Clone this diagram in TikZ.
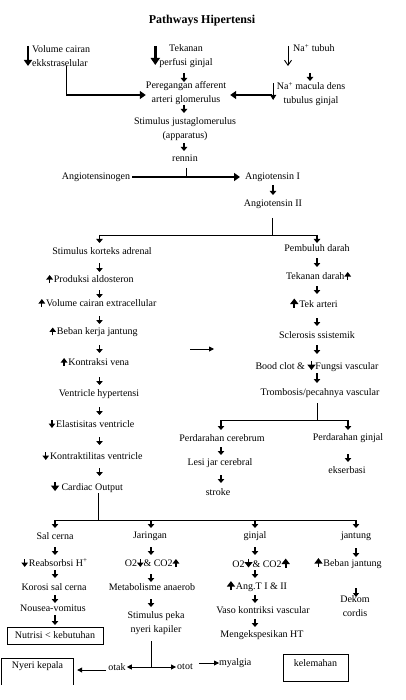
\documentclass[tikz,border=0pt]{standalone}
\usepackage{fontspec}
\setmainfont{Liberation Serif}
\usetikzlibrary{arrows.meta,calc}
\newcommand\myup{\tikz[baseline=0pt,x=1pt,y=1pt]\draw[line width=1.3pt,-{Triangle[width=6.5pt,length=4.5pt]}] (0,-0.5)--(0,7.5);}
\newcommand\mydn{\tikz[baseline=0pt,x=1pt,y=1pt]\draw[line width=1.3pt,-{Triangle[width=6.5pt,length=4.5pt]}] (0,7.5)--(0,-0.5);}
\newcommand\bigup{\tikz[baseline=0pt,x=1pt,y=1pt]\draw[line width=1.6pt,-{Triangle[width=8pt,length=5.5pt]}] (0,-0.5)--(0,8.5);}
\newcommand\bigdn{\tikz[baseline=0pt,x=1pt,y=1pt]\draw[line width=1.6pt,-{Triangle[width=8pt,length=5.5pt]}] (0,8.5)--(0,-0.5);}
\tikzset{
 txt/.style={inner sep=0pt, font=\fontsize{10}{13.5}\selectfont, align=center},
 dn/.style={line width=1.8pt, -{Triangle[width=6.5pt,length=4pt]}},
 ln/.style={line width=0.8pt},
 thk/.style={line width=2.6pt, -{Triangle[width=8pt,length=6pt]}},
 sar/.style={line width=0.9pt, -{Triangle[width=5pt,length=5pt]}},
 box/.style={draw, line width=0.8pt},
}
\begin{document}
\begin{tikzpicture}[x=1pt,y=-1pt]
\useasboundingbox[fill=white] (0,0) rectangle (405,700);
% ---------- top ----------
\node[txt, font=\bfseries\fontsize{12}{14}\selectfont] (title) at (202,21) {Pathways Hipertensi};
\node[txt, anchor=west, align=left] (v1) at (32,56) {Volume cairan\\ekkstraselular};
\node[txt] (t1) at (186,56) {Tekanan\\perfusi ginjal};
\node[txt, anchor=west] (n1) at (293,48) {Na\textsuperscript{+} tubuh};
\node[txt] (n2) at (311,94) {Na\textsuperscript{+} macula dens\\tubulus ginjal};
\node[txt] (p1) at (186,93) {Peregangan afferent\\arteri glomerulus};
\node[txt] (s1) at (185,129) {Stimulus justaglomerulus\\(apparatus)};
\node[txt] (r1) at (185,158) {rennin};
\node[txt] (ag) at (96,177) {Angiotensinogen};
\node[txt, anchor=west] (a1) at (245,177) {Angiotensin I};
\node[txt] (a2) at (273,204) {Angiotensin II};
% markers
\draw[line width=2.4pt,-{Triangle[width=8pt,length=6pt]}] (v1.west) ++(-4,-10) -- ++(0,20);
\draw[line width=3pt,-{Triangle[width=9pt,length=7pt]}] (t1.west) ++(-4,-10) -- ++(0,19);
\draw[line width=0.9pt,-{Straight Barb[width=7pt,length=5pt]}] (n1.west) ++(-5,-2) -- ++(0,20);
\draw[line width=1pt,-{Triangle[width=6pt,length=5pt]}] (n2.west) ++(-3.5,-11) -- ++(0,17);
% connectors top
\coordinate (vc) at (66,95);
\coordinate (cT) at (184,0);
\coordinate (cN) at (310,0);
\draw[ln] (v1.south -| vc) -- (vc);
\draw[thk] (vc) -- (p1.west |- vc);
\draw[thk] ($(n2.west |- vc)+(-5,0)$) -- ($(p1.east |- vc)+(4,0)$);
\draw[dn] (t1.center -| cT) ++(0,17) -- ++(0,9);
\draw[dn] (n1.center -| cN) ++(0,25) -- ++(0,8);
\draw[dn] (p1.center -| cT) ++(0,12) -- ++(0,8);
\draw[dn] (s1.center -| cT) ++(0,14) -- ++(0,8);
\coordinate (rj) at (186,177);
\draw[ln] (r1.center -| rj) ++(0,10) -- (rj);
\draw[thk] ($(ag.east)+(2,0)$) -- ($(a1.west)+(-5,0)$);
\coordinate (cA) at (273,0);
\draw[dn] (a1.center -| cA) ++(0,8) -- ++(0,10);
% ---------- branch 1 ----------
\coordinate (sp1) at (272,235);
\coordinate (cL) at (99.5,0);
\coordinate (cR) at (317,0);
\draw[ln] (a2.center -| sp1) ++(0,14) -- (sp1);
\draw[ln] (sp1 -| cL) -- (sp1 -| cR);
\draw[dn] (sp1 -| cL) -- ++(0,8);
\draw[dn] (sp1 -| cR) -- ++(0,8);
% left column
\node[txt] (k1) at (102,251) {Stimulus korteks adrenal};
\node[txt] (k2) at (90,279) {\myup\kern1pt Produksi aldosteron};
\node[txt] (k3) at (97.5,303) {\myup\kern1pt Volume cairan extracellular};
\node[txt] (k4) at (93.5,332) {\myup\kern1pt Beban kerja jantung};
\node[txt] (k5) at (95,362) {\myup\kern1pt Kontraksi vena};
\node[txt] (k6) at (99,394) {Ventricle hypertensi};
\node[txt] (k7) at (91.5,424) {\mydn\kern1pt Elastisitas ventricle};
\node[txt] (k8) at (92.5,456) {\mydn\kern1pt Kontraktilitas ventricle};
\node[txt] (k9) at (87,487) {\bigdn\ Cardiac Output};
\draw[dn] (k1.center -| cL) ++(0,12) -- ++(0,9);
\draw[dn] (k2.center -| cL) ++(0,11) -- ++(0,8);
\draw[dn] (k3.center -| cL) ++(0,13) -- ++(0,8);
\draw[dn] (k4.center -| cL) ++(0,13) -- ++(0,8);
\draw[dn] (k5.center -| cL) ++(0,15) -- ++(0,8);
\draw[dn] (k6.center -| cL) ++(0,13) -- ++(0,8);
\draw[dn] (k7.center -| cL) ++(0,13) -- ++(0,8);
\draw[dn] (k8.center -| cL) ++(0,12) -- ++(0,8);
% right column
\node[txt] (r2) at (317,248) {Pembuluh darah};
\node[txt] (r3) at (318.5,276) {Tekanan darah\myup};
\node[txt] (r4) at (314,303) {\bigup\kern1pt Tek arteri};
\node[txt] (r5) at (317,335) {Sclerosis ssistemik};
\node[txt] (r6) at (317,366) {Bood clot \& \bigdn Fungsi vascular};
\node[txt] (r7) at (320,393) {Trombosis/pecahnya vascular};
\draw[dn] (r2.center -| cR) ++(0,10) -- ++(0,9);
\draw[dn] (r3.center -| cR) ++(0,10) -- ++(0,8);
\draw[dn] (r4.center -| cR) ++(0,15) -- ++(0,8);
\draw[dn] (r5.center -| cR) ++(0,10) -- ++(0,9);
\draw[dn] (r6.center -| cR) ++(0,7) -- ++(0,10);
% middle small arrow
\coordinate (ma) at (190,349);
\coordinate (mb) at (214,349);
\draw[sar] (ma) -- (mb);
% ---------- branch 2 ----------
\coordinate (sp3) at (317,420);
\coordinate (cC) at (221,0);
\coordinate (cG) at (348,0);
\draw[ln] (r7.center -| sp3) ++(0,10) -- (sp3);
\draw[ln] (sp3 -| cC) -- (sp3 -| cG);
\draw[dn] (sp3 -| cC) -- ++(0,10);
\draw[dn] (sp3 -| cG) -- ++(0,10);
\node[txt] (c1) at (222,438) {Perdarahan cerebrum};
\node[txt] (c2) at (220,463) {Lesi jar cerebral};
\node[txt] (c3) at (218,492) {stroke};
\node[txt] (g1) at (348,438) {Perdarahan ginjal};
\node[txt] (g2) at (347,470) {ekserbasi};
\draw[dn] (c1.center -| cC) ++(0,9) -- ++(0,8);
\draw[dn] (c2.center -| cC) ++(0,12) -- ++(0,8);
\draw[dn] (g1.center -| cG) ++(0,16) -- ++(0,8);
% ---------- branch 3 ----------
\coordinate (sp2) at (98,520);
\coordinate (x1) at (55,0);
\coordinate (x2) at (151,0);
\coordinate (x3) at (255,0);
\coordinate (x4) at (356,0);
\draw[ln] (k9.center -| sp2) ++(0,6) -- (sp2);
\draw[ln] (sp2 -| x1) -- (sp2 -| x4);
\draw[dn] (sp2 -| x1) -- ++(0,8);
\draw[dn] (sp2 -| x2) -- ++(0,8);
\draw[dn] (sp2 -| x3) -- ++(0,8);
\draw[dn] (sp2 -| x4) -- ++(0,8);
\node[txt] (b1) at (55,536) {Sal cerna};
\node[txt] (b2) at (150,536) {Jaringan};
\node[txt] (b3) at (255,536) {ginjal};
\node[txt] (b4) at (356,536) {jantung};
\node[txt] (b1a) at (54.5,563) {\mydn\kern1pt Reabsorbsi H\textsuperscript{+}};
\node[txt] (b2a) at (152,563) {O2\mydn\& CO2\myup};
\node[txt] (b3a) at (261,563) {O2\bigdn\& CO2\bigup};
\node[txt] (b4a) at (348,563) {\bigup\kern1pt Beban jantung};
\node[txt] (b1b) at (54,587) {Korosi sal cerna};
\node[txt] (b2b) at (152,587) {Metabolisme anaerob};
\node[txt] (b3b) at (257,586) {\bigup\kern1pt Ang.T I \& II};
\node[txt] (b4b) at (355,606) {Dekom\\cordis};
\node[txt] (b1c) at (53,608) {Nousea-vomitus};
\node[txt] (b2c) at (156,623) {Stimulus peka\\nyeri kapiler};
\node[txt] (b3c) at (263,610) {Vaso kontriksi vascular};
\node[txt] (b3d) at (262,635) {Mengekspesikan HT};
\node[txt, box, minimum width=96pt, minimum height=17pt] (nut) at (55,635.5) {Nutrisi < kebutuhan};
\draw[dn] (b1.center -| x1) ++(0,11) -- ++(0,8);
\draw[dn] (b2.center -| x2) ++(0,11) -- ++(0,8);
\draw[dn] (b3.center -| x3) ++(0,11) -- ++(0,8);
\draw[dn] (b4.center -| x4) ++(0,12) -- ++(0,9);
\draw[dn] (b1a.center -| x1) ++(0,7) -- ++(0,8);
\draw[dn] (b2a.center -| x2) ++(0,11) -- ++(0,8);
\draw[dn] (b3a.center -| x3) ++(0,7) -- ++(0,8);
\draw[line width=1.2pt,-{Triangle[width=6pt,length=4pt]}] (b4a.center -| x4) ++(0,25) -- ++(0,9);
\draw[dn] (b1b.center -| x1) ++(0,8) -- ++(0,8);
\draw[dn] (b2b.center -| x2) ++(0,12) -- ++(0,8);
\draw[dn] (b3b.center -| x3) ++(0,9) -- ++(0,8);
\draw[dn] (b1c.center -| x1) ++(0,7) -- ++(0,10);
\draw[dn] (b3c.center -| x3) ++(0,9) -- ++(0,8);
% ---------- bottom ----------
\node[txt] (otak) at (117,667) {otak};
\node[txt] (otot) at (185,667) {otot};
\node[txt, anchor=west] (my) at (219,663) {myalgia};
\node[txt, minimum width=71pt, text height=9pt, text depth=17pt] (nk) at (37.5,672) {Nyeri kepala};
\draw[ln] (nk.south west) -- (nk.north west) -- (nk.north east) -- (nk.south east);
\node[txt, box, minimum width=65pt, text height=9pt, text depth=12pt, inner ysep=3pt] (kel) at (315.5,667.5) {kelemahan};
\coordinate (sp4) at (151,667);
\coordinate (oy) at (0,670);
\draw[ln] (b2c.center -| sp4) ++(0,18) -- (sp4);
\draw[line width=0.9pt, {Triangle[width=5pt,length=5pt]}-{Triangle[width=5pt,length=5pt]}] ($(otak.east)+(1,0)$) -- ($(otot.west)+(-1,0)$);
\draw[sar] ($(otak.west |- oy)+(-2,0)$) -- ($(nk.east |- oy)+(4,0)$);
\draw[sar] ($(otot.east)+(6,-4)$) -- (my.west);
\end{tikzpicture}
\end{document}
